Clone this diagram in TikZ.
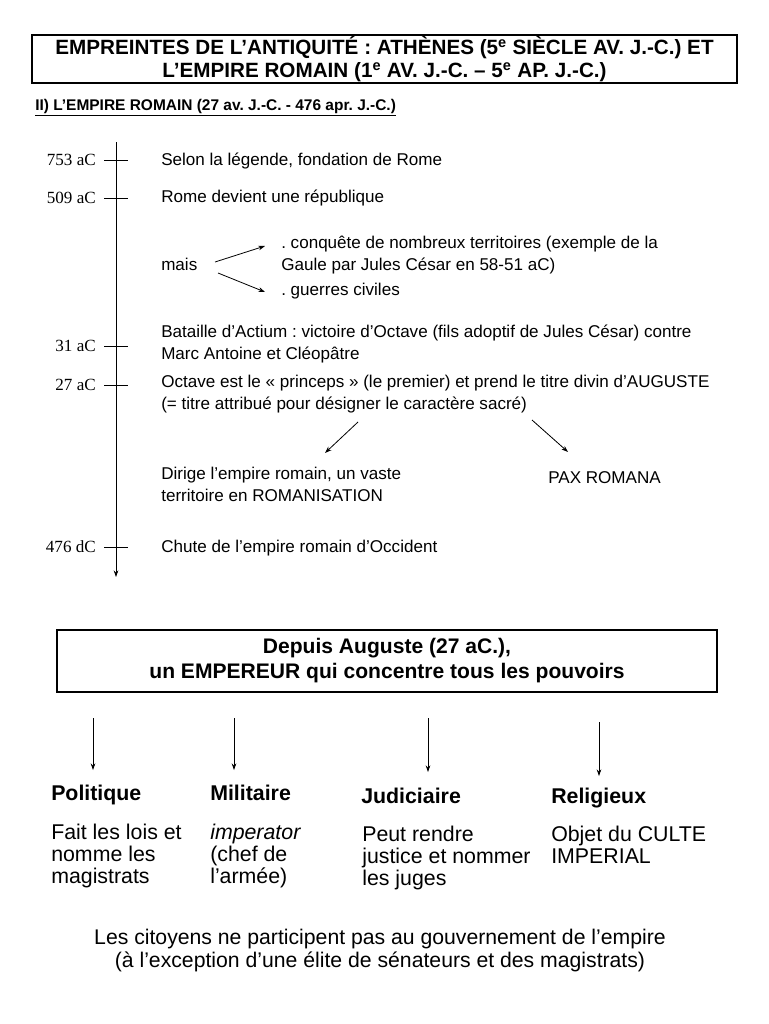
\documentclass[tikz,border=0pt]{standalone}
\usepackage{fontspec}
\setmainfont{Liberation Sans}
\newfontfamily\yrfont{Liberation Serif}
\usetikzlibrary{arrows.meta}
\frenchspacing
\begin{document}
\begin{tikzpicture}[x=0.75pt,y=-0.75pt,
  txt/.style={anchor=north west, inner sep=0pt, align=left, font=\fontsize{12.8}{16.5}\selectfont},
  yr/.style={anchor=east, inner sep=0pt, font=\yrfont\fontsize{12.8}{14}\selectfont},
  head/.style={anchor=north west, inner sep=0pt, font=\bfseries\fontsize{16}{18}\selectfont},
  desc/.style={anchor=north west, inner sep=0pt, align=left, font=\fontsize{16}{16.5}\selectfont},
  arr/.style={-{Stealth[length=5pt,width=3.5pt]}, line width=0.6pt},
  tick/.style={line width=0.6pt}]
\useasboundingbox (0,0) rectangle (768,1024);
\fill[white] (0,0) rectangle (768,1024);
% title
\node (title) [draw, line width=0.8pt, minimum width=528.75pt, minimum height=36pt, align=center,
  font=\bfseries\fontsize{15.5}{17.5}\selectfont, inner sep=0pt] at (384.5,59)
  {EMPREINTES DE L'ANTIQUITÉ : ATHÈNES (5\textsuperscript{e} SIÈCLE AV. J.-C.) ET\\
   L’EMPIRE ROMAIN (1\textsuperscript{e} AV. J.-C. – 5\textsuperscript{e} AP. J.-C.)};
\node (sub) [anchor=west, inner sep=0pt, font=\bfseries\fontsize{11.6}{13}\selectfont] at (35,108)
  {\underline{II) L'EMPIRE ROMAIN (27 av. J.-C. - 476 apr. J.-C.)}};
% timeline
\coordinate (tltop) at (116,142);
\coordinate (tlbot) at (116,577);
\draw[line width=0.6pt, -{Stealth[length=5pt,width=3.5pt]}] (tltop) -- (tlbot);
\foreach \n/\y/\l in {a/160/753 aC, b/198/509 aC, c/346/31 aC, d/385/27 aC, e/547/476 dC}{
  \coordinate (t\n l) at (104,\y);
  \coordinate (t\n r) at (128,\y);
  \draw[tick] (t\n l) -- (t\n r);
  \node (y\n) [yr] at (96,\y) {\l};
}
\node (e1) [txt] at (161,153) {Selon la légende, fondation de Rome};
\node (e2) [txt] at (161,190) {Rome devient une république};
\node (mais) [txt] at (161,258) {mais};
\node (conq) [txt] at (281,236) {. conquête de nombreux territoires (exemple de la\\Gaule par Jules César en 58-51 aC)};
\node (guer) [txt] at (281,283) {. guerres civiles};
\coordinate (m1) at (215,262);
\coordinate (m1e) at (265,246);
\coordinate (m2) at (218,273);
\coordinate (m2e) at (265,292);
\draw[arr] (m1) -- (m1e);
\draw[arr] (m2) -- (m2e);
\node (e3) [txt] at (161,325) {Bataille d’Actium : victoire d’Octave (fils adoptif de Jules César) contre\\Marc Antoine et Cléopâtre};
\node (e4) [txt] at (161,375) {Octave est le « princeps » (le premier) et prend le titre divin d’AUGUSTE\\(= titre attribué pour désigner le caractère sacré)};
\coordinate (a1) at (358,422);
\coordinate (a1e) at (325,453);
\coordinate (a2) at (532,420);
\coordinate (a2e) at (568,452);
\draw[arr] (a1) -- (a1e);
\draw[arr] (a2) -- (a2e);
\node (dir) [txt] at (161,467) {Dirige l’empire romain, un vaste\\territoire en ROMANISATION};
\node (pax) [txt] at (548,471) {PAX ROMANA};
\node (e5) [txt] at (161,540) {Chute de l’empire romain d’Occident};
% emperor box
\node (emp) [draw, line width=2.2pt, minimum width=495pt, minimum height=46.5pt, align=center,
  font=\bfseries\fontsize{15.8}{18.75}\selectfont, inner sep=0pt] at (387,661)
  {Depuis Auguste (27 aC.),\\un EMPEREUR qui concentre tous les pouvoirs};
% powers
\foreach \n/\x/\ya/\yb in {p1/93/718/770, p2/234/718/770, p3/428/718/772, p4/599/722/776}{
  \coordinate (\n s) at (\x,\ya);
  \coordinate (\n e) at (\x,\yb);
  \draw[arr] (\n s) -- (\n e);
}
\node (h1) [head] at (51,785) {Politique};
\node (h2) [head] at (210,785) {Militaire};
\node (h3) [head] at (361,788) {Judiciaire};
\node (h4) [head] at (551,788) {Religieux};
\node (d1) [desc] at (51,824) {Fait les lois et\\nomme les\\magistrats};
\node (d2) [desc] at (210,824) {\textit{imperator}\\(chef de\\l’armée)};
\node (d3) [desc] at (362,826) {Peut rendre\\justice et nommer\\les juges};
\node (d4) [desc] at (551,826) {Objet du CULTE\\IMPERIAL};
% bottom
\node (bot) [align=center, inner sep=0pt, font=\fontsize{15.9}{17.25}\selectfont] at (380,951)
  {Les citoyens ne participent pas au gouvernement de l’empire\\(à l’exception d’une élite de sénateurs et des magistrats)};
\end{tikzpicture}
\end{document}
